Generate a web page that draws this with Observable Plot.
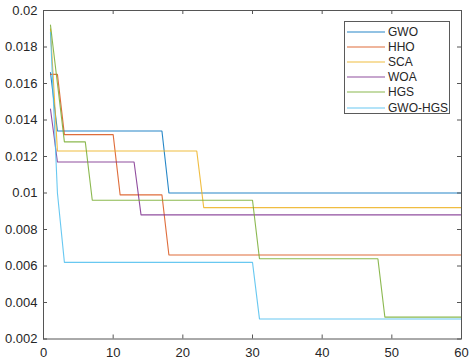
<!DOCTYPE html>
<html>
<head>
<meta charset="utf-8">
<script src="https://cdn.jsdelivr.net/npm/d3@7"></script>
<script src="https://cdn.jsdelivr.net/npm/@observablehq/plot@0.6"></script>
<style>
  html, body { margin: 0; padding: 0; background: #fff; }
  #wrap { position: relative; width: 474px; height: 364px; font-family: "Liberation Sans", Arial, sans-serif; }
  #legend { position: absolute; left: 344px; top: 21px; width: 106px; height: 93px; border: 1px solid #5a5a5a; background: #fff; box-sizing: border-box; padding-top: 2px; overflow: visible; }
  .row { display: flex; align-items: center; height: 15.2px; font-size: 12px; color: #262626; white-space: nowrap; }
  .row svg { margin-left: 2px; margin-right: 3px; flex: none; }
</style>
</head>
<body>
<div id="wrap"><div id="legend"></div></div>
<script>
// Series names and colours
const names = ["GWO", "HHO", "SCA", "WOA", "HGS", "GWO-HGS"];
const colors = ["#0072BD", "#D95319", "#EDB120", "#7E2F8E", "#77AC30", "#4DBEEE"];

// Convergence curves: iterations where the curve changes, and the values there
const gwoIter = [1, 2, 17, 18, 60];
const gwoVal  = [0.0166, 0.0134, 0.0134, 0.0100, 0.0100];
const hhoIter = [1, 2, 3, 10, 11, 17, 18, 60];
const hhoVal  = [0.0165, 0.0165, 0.0132, 0.0132, 0.0099, 0.0099, 0.0066, 0.0066];
const scaIter = [1, 2, 22, 23, 60];
const scaVal  = [0.0190, 0.0123, 0.0123, 0.0092, 0.0092];
const woaIter = [1, 2, 13, 14, 60];
const woaVal  = [0.0146, 0.0117, 0.0117, 0.0088, 0.0088];
const hgsIter = [1, 2, 3, 6, 7, 30, 31, 48, 49, 60];
const hgsVal  = [0.0192, 0.0160, 0.0128, 0.0128, 0.0096, 0.0096, 0.0064, 0.0064, 0.0032, 0.0032];
const ghIter  = [1, 2, 3, 30, 31, 60];
const ghVal   = [0.0188, 0.0100, 0.0062, 0.0062, 0.0031, 0.0031];

// Axis ticks
const xTicks = [0, 10, 20, 30, 40, 50, 60];
const yTicks = [0.002, 0.004, 0.006, 0.008, 0.01, 0.012, 0.014, 0.016, 0.018, 0.02];
const yTickLabels = ["0.002", "0.004", "0.006", "0.008", "0.01", "0.012", "0.014", "0.016", "0.018", "0.02"];

const iters = [gwoIter, hhoIter, scaIter, woaIter, hgsIter, ghIter];
const vals = [gwoVal, hhoVal, scaVal, woaVal, hgsVal, ghVal];
const rows = names.flatMap((name, k) => iters[k].map((it, i) => ({ name, it, v: vals[k][i] })));

const W = 474, H = 364, mT = 10, mB = 25.5, mL = 43, mR = 13;
const pH = H - mT - mB, pW = W - mL - mR;
const axisColor = "#555";

const chart = Plot.plot({
  width: W, height: H,
  marginTop: mT, marginBottom: mB, marginLeft: mL, marginRight: mR,
  x: { domain: [0, 60] },
  y: { domain: [0.002, 0.02] },
  color: { domain: names, range: colors },
  style: { fontFamily: "'Liberation Sans', Arial, sans-serif", fontSize: "13px", color: "#262626", background: "#fff" },
  marks: [
    Plot.line(rows, { x: "it", y: "v", z: "name", stroke: "name", strokeWidth: 1.1, strokeOpacity: 0.85 }),
    Plot.frame({ stroke: axisColor }),
    Plot.tickX(xTicks, { x: d => d, insetTop: pH - 4, stroke: axisColor }),
    Plot.tickX(xTicks, { x: d => d, insetBottom: pH - 4, stroke: axisColor }),
    Plot.tickY(yTicks, { y: d => d, insetRight: pW - 4, stroke: axisColor }),
    Plot.tickY(yTicks, { y: d => d, insetLeft: pW - 4, stroke: axisColor }),
    Plot.axisX(xTicks, { tickSize: 0, tickPadding: 9, label: null, fill: "#262626" }),
    Plot.axisY(yTicks, { tickSize: 0, tickPadding: 6, label: null, tickFormat: d => yTickLabels[yTicks.indexOf(d)], fill: "#262626" })
  ]
});
document.getElementById("wrap").prepend(chart);

const legend = document.getElementById("legend");
names.forEach((n, k) => {
  const row = document.createElement("div");
  row.className = "row";
  row.innerHTML = `<svg width="38" height="4"><line x1="0" x2="38" y1="2" y2="2" stroke="${colors[k]}" stroke-width="1.1" stroke-opacity="0.85"/></svg><span>${n}</span>`;
  legend.appendChild(row);
});
</script>
</body>
</html>
